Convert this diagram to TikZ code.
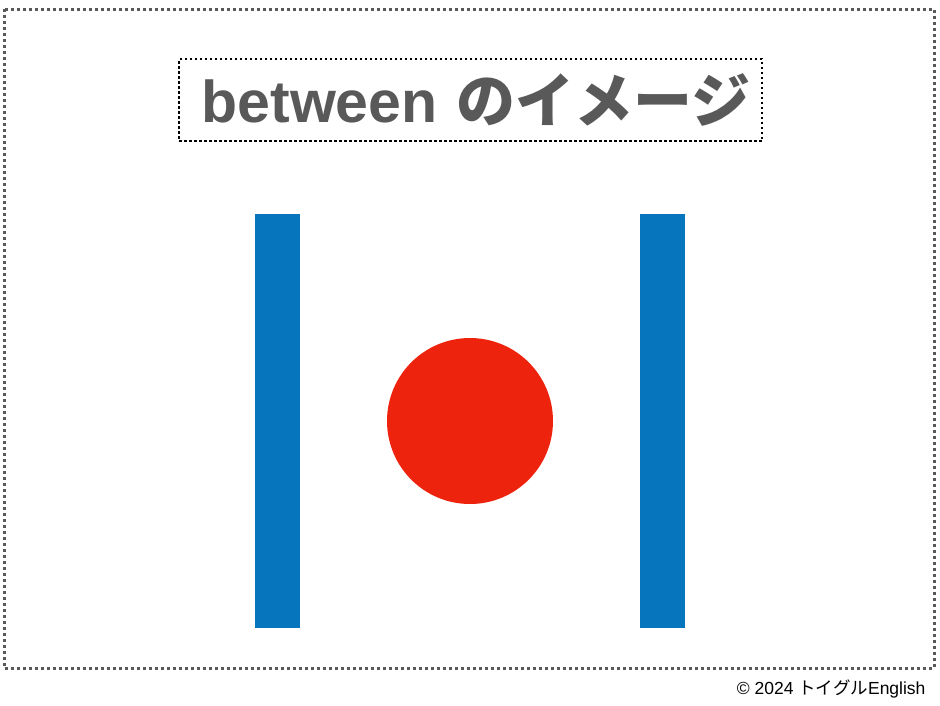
\documentclass[tikz,border=0pt]{standalone}
\usepackage{fontspec}
\setmainfont{Liberation Sans}
\newfontfamily\jpfont{Noto Sans CJK JP}
\definecolor{bargray}{HTML}{595959}
\definecolor{barblue}{HTML}{0675BE}
\definecolor{ballred}{HTML}{EE230E}
\begin{document}
\begin{tikzpicture}[x=1pt,y=-1pt] % 1px = 1pt, y downward
\tikzstyle{frame} = [draw=bargray, line width=3pt, dash pattern=on 3pt off 3pt] % outer border
\tikzstyle{titlebox} = [draw=black, line width=2.5pt, dash pattern=on 2.5pt off 2.5pt, inner sep=0pt, minimum width=583pt, minimum height=82pt] % title frame
\tikzstyle{pole} = [fill=barblue, minimum width=45pt, minimum height=414pt, inner sep=0pt] % blue bar
\tikzstyle{ball} = [circle, fill=ballred, minimum size=166pt, inner sep=0pt] % red ball
\useasboundingbox (0,0) rectangle (940,705);
\draw[frame] (4,9) rectangle (934,668);
\node[titlebox] (title) at (470.5,100) {};
\node[text=bargray, font=\fontsize{59}{60}\selectfont\bfseries, anchor=base west] (titletext) at (198,122)
    {between\hspace{19pt}{\jpfont\fontsize{59}{60}\selectfont のイメージ}};
\node[pole] (left) at (277.5,421) {};
\node[pole] (right) at (662,421) {};
\node[ball] (ball) at (470,421) {};
\node[anchor=base east, font=\fontsize{17.5}{19}\selectfont] (copy) at (929,694)
    {© 2024 {\jpfont トイグル}English};
\end{tikzpicture}
\end{document}
